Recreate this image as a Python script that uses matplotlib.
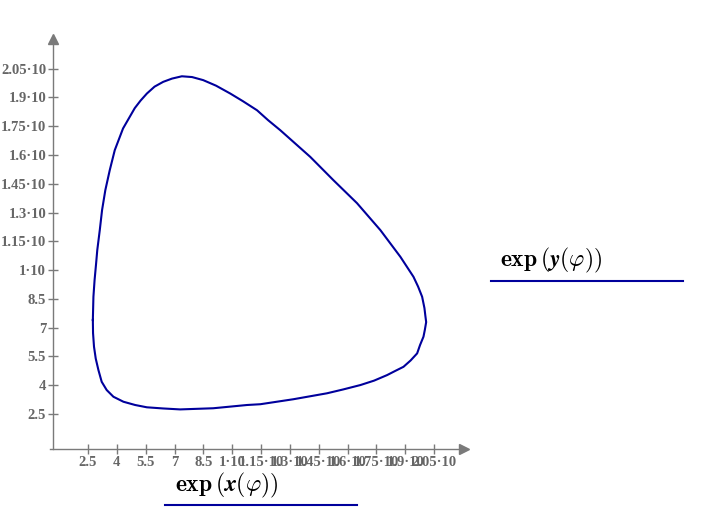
import matplotlib
matplotlib.use('Agg')
import matplotlib.pyplot as plt
from matplotlib.lines import Line2D

# digitised orbit: exp(x(phi)), exp(y(phi))
exp_x = [2.75, 2.78, 2.84, 2.92, 2.98, 3.11, 3.23, 3.40, 3.63, 3.89, 4.32, 4.93,
         5.23, 5.56, 5.96, 6.41, 6.87, 7.38, 7.91, 8.49, 9.16, 9.90, 10.56, 11.29,
         11.87, 12.50, 14.06, 15.26, 16.49, 17.71, 18.75, 19.43, 19.67, 19.88, 20.00,
         20.05, 20.09, 20.02, 19.95, 19.77, 19.62, 19.28, 18.91, 18.47, 18.06, 17.38,
         16.67, 15.77, 14.93, 13.18, 11.46, 10.77, 9.01, 7.29, 6.40, 5.56, 4.95, 4.34,
         3.82, 3.47, 3.21, 3.04, 2.90, 2.81, 2.76, 2.75]
exp_y = [7.40, 8.61, 9.48, 10.35, 11.04, 12.08, 13.13, 14.17, 15.21, 16.25, 17.38, 18.44,
         18.83, 19.20, 19.56, 19.81, 19.98, 20.10, 20.06, 19.90, 19.61, 19.20, 18.80,
         18.33, 17.81, 17.29, 15.90, 14.69, 13.49, 12.08, 10.69, 9.65, 9.14,
         8.61, 8.02, 7.60, 7.29, 6.88, 6.53, 6.09, 5.66, 5.29, 4.96, 4.74, 4.53, 4.24,
         4.01, 3.78, 3.58, 3.27, 3.01, 2.97, 2.80, 2.74, 2.79, 2.85, 2.97, 3.14, 3.40,
         3.75, 4.18, 4.79, 5.39, 6.01, 6.72, 7.40]

tick_vals = [2.5, 4, 5.5, 7, 8.5, 10, 11.5, 13, 14.5, 16, 17.5, 19, 20.5]
tick_labels = ['2.5', '4', '5.5', '7', '8.5', '1\u00b710', '1.15\u00b710', '1.3\u00b710',
               '1.45\u00b710', '1.6\u00b710', '1.75\u00b710', '1.9\u00b710', '2.05\u00b710']

x_label = r'$\mathbf{exp}\,(\boldsymbol{x}(\varphi))$'
y_label = r'$\mathbf{exp}\,(\boldsymbol{y}(\varphi))$'

W, H = 707, 517
plt.rcParams['mathtext.fontset'] = 'cm'
fig = plt.figure(figsize=(W / 100, H / 100), dpi=100)

ax_l, ax_b, ax_w, ax_h = 53, 449, 407, 406.3
ax = fig.add_axes([ax_l / W, (H - ax_b) / H, ax_w / W, ax_h / H])

curve_col = '#00009c'
axis_col = '#7a7a7a'

ax.plot(exp_x, exp_y, color=curve_col, lw=1.5, solid_joinstyle='round')

lo, hi = 0.677, 21.85
ax.set_xlim(lo, hi)
ax.set_ylim(lo, hi)

for s in ['top', 'right']:
    ax.spines[s].set_visible(False)
for s in ['left', 'bottom']:
    ax.spines[s].set_color(axis_col)
    ax.spines[s].set_linewidth(1.0)
ax.spines['bottom'].set_bounds(lo - 0.17, hi)

ax.set_xticks(tick_vals)
ax.set_yticks(tick_vals)
tick_font = dict(family='Liberation Serif', weight='bold', size=10.5)
ax.set_xticklabels(tick_labels, **tick_font)
ax.set_yticklabels(tick_labels, **tick_font)
ax.tick_params(direction='inout', length=7, width=1, colors=axis_col,
               labelcolor='#666666', pad=1.5)

# arrow heads at the ends of the axes
ax.plot([1.0 + 4 / ax_w], [0], marker='>', ms=6.5, color=axis_col,
        transform=ax.transAxes, clip_on=False)
ax.plot([0], [1.0 + 4 / ax_h], marker='^', ms=6.5, color=axis_col,
        transform=ax.transAxes, clip_on=False)

# trace labels with their line samples
fig.text(175 / W, 1 - 485 / H, x_label, fontsize=17, va='center', ha='left')
fig.add_artist(Line2D([165 / W, 357 / W], [1 - 505 / H, 1 - 505 / H],
                      color=curve_col, lw=1.5, transform=fig.transFigure))
fig.text(500 / W, 1 - 260 / H, y_label, fontsize=17, va='center', ha='left')
fig.add_artist(Line2D([491 / W, 683 / W], [1 - 281 / H, 1 - 281 / H],
                      color=curve_col, lw=1.5, transform=fig.transFigure))

fig.savefig('out.png', dpi=100)
